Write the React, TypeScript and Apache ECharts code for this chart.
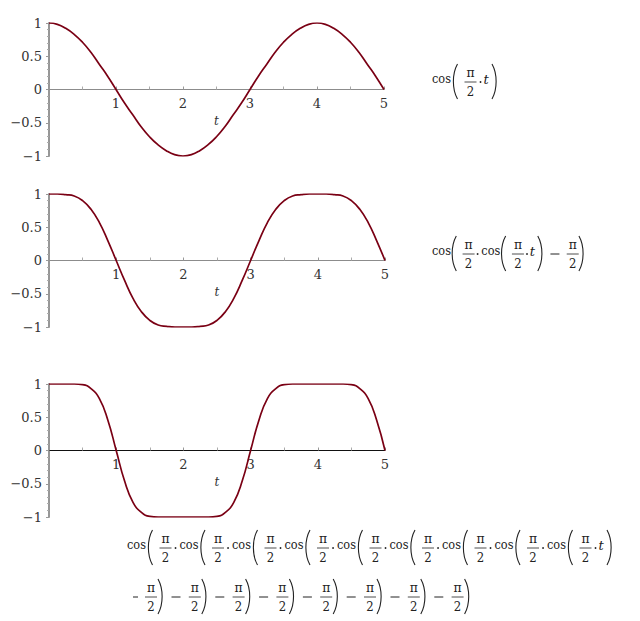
import React, { useEffect, useRef } from "react";
import * as echarts from "echarts";

// sample positions along t
const tValues = [
  0, 0.125, 0.25, 0.375, 0.5, 0.625, 0.75, 0.875, 1,
  1.125, 1.25, 1.375, 1.5, 1.625, 1.75, 1.875, 2,
  2.125, 2.25, 2.375, 2.5, 2.625, 2.75, 2.875, 3,
  3.125, 3.25, 3.375, 3.5, 3.625, 3.75, 3.875, 4,
  4.125, 4.25, 4.375, 4.5, 4.625, 4.75, 4.875, 5,
];

// top plot: cos(pi/2 t)
const seriesTop = [
  1, 0.98, 0.92, 0.83, 0.71, 0.56, 0.38, 0.2, 0,
  -0.2, -0.38, -0.56, -0.71, -0.83, -0.92, -0.98, -1,
  -0.98, -0.92, -0.83, -0.71, -0.56, -0.38, -0.2, 0,
  0.2, 0.38, 0.56, 0.71, 0.83, 0.92, 0.98, 1,
  0.98, 0.92, 0.83, 0.71, 0.56, 0.38, 0.2, 0,
];

// middle plot
const seriesMid = [
  1, 1, 0.99, 0.97, 0.9, 0.77, 0.57, 0.3, 0,
  -0.3, -0.57, -0.77, -0.9, -0.97, -0.99, -1, -1,
  -1, -0.99, -0.97, -0.9, -0.77, -0.57, -0.3, 0,
  0.3, 0.57, 0.77, 0.9, 0.97, 0.99, 1, 1,
  1, 0.99, 0.97, 0.9, 0.77, 0.57, 0.3, 0,
];

// bottom plot
const seriesBottom = [
  1, 1, 1, 1, 0.99, 0.93, 0.78, 0.46, 0,
  -0.46, -0.78, -0.93, -0.99, -1, -1, -1, -1,
  -1, -1, -1, -0.99, -0.93, -0.78, -0.46, 0,
  0.46, 0.78, 0.93, 0.99, 1, 1, 1, 1,
  1, 1, 1, 0.99, 0.93, 0.78, 0.46, 0,
];

const xTicks = [0, 1, 2, 3, 4, 5];
const yTicks = [-1, -0.5, 0, 0.5, 1];

const FONT = "DejaVu Serif";
const INK = "#222";
const CURVE = "#7a0014";

// formula token lists
const formula1 = ["cos", "(", "frac", "·t", ")"];
const formula2 = ["cos", "(", "frac", "·", "cos", "(", "frac", "·t", ")", "−", "frac", ")"];
const formula3a: string[] = [];
for (let i = 0; i < 8; i++) formula3a.push("cos", "(", "frac", "·");
formula3a.push("cos", "(", "frac", "·t", ")");
const formula3b: string[] = ["u−", "frac", ")"];
for (let i = 0; i < 7; i++) formula3b.push("−", "frac", ")");

function txt(x: number, y: number, s: string, align: string, italic = false, sx = 1, size = 13) {
  return {
    type: "text",
    x,
    y,
    scaleX: sx,
    style: {
      text: s,
      fontFamily: FONT,
      fontSize: size,
      fontStyle: italic ? "italic" : "normal",
      fill: INK,
      textAlign: align,
      textVerticalAlign: "middle",
      align,
      verticalAlign: "middle",
    },
  };
}

function paren(x: number, ya: number, right: boolean) {
  const top = ya - 18;
  const bot = ya + 17;
  const h = bot - top;
  const outer = right ? x + 6 : x;
  const inner = right ? x + 0.5 : x + 5.5;
  return {
    type: "bezierCurve",
    shape: {
      x1: inner,
      y1: top,
      x2: inner,
      y2: bot,
      cpx1: outer,
      cpy1: top + h * 0.28,
      cpx2: outer,
      cpy2: bot - h * 0.28,
    },
    style: { stroke: INK, lineWidth: 1.1, fill: null },
  };
}

function hline(x1: number, x2: number, y: number, w = 0.9) {
  return { type: "line", shape: { x1, y1: y, x2, y2: y }, style: { stroke: INK, lineWidth: w } };
}

function dot(x: number, y: number) {
  return { type: "circle", shape: { cx: x, cy: y, r: 0.9 }, style: { fill: INK } };
}

function buildFormula(tokens: string[], x0: number, ya: number, k = 1) {
  const els: any[] = [];
  let c = x0;
  for (const tk of tokens) {
    switch (tk) {
      case "cos":
        els.push(txt(c, ya - 3, "cos", "left", false, 0.87));
        c += 19 * k;
        break;
      case "(":
        els.push(paren(c + 1 * k, ya, false));
        c += 13 * k;
        break;
      case ")":
        els.push(paren(c, ya, true));
        c += 6 * k;
        break;
      case "frac": {
        const m = c + 6.5;
        els.push(txt(m, ya - 9.5, "π", "center", false, 0.95));
        els.push(hline(m - 6, m + 6, ya, 0.8));
        els.push(txt(m, ya + 10, "2", "center", false, 0.9));
        c += 13 * k;
        break;
      }
      case "·":
        els.push(dot(c + 3.5 * k, ya));
        c += 7.5 * k;
        break;
      case "·t":
        els.push(dot(c + 3.5 * k, ya));
        els.push(txt(c + 6.5 * k, ya - 2.5, "t", "left", true));
        c += 14.5 * k;
        break;
      case "−":
        els.push(hline(c + 8 * k, c + 8 * k + 9, ya, 1));
        c += 24.8 * k;
        break;
      case "u−":
        els.push(hline(c, c + 5, ya, 1));
        c += 11.5 * k;
        break;
    }
  }
  return els;
}

const grids = [
  { left: 49, top: 23, width: 335, height: 133 },
  { left: 49, top: 194, width: 336, height: 133 },
  { left: 49, top: 384, width: 336, height: 133 },
];
const xAxisLineColors = ["#8c8c8c", "#8c8c8c", "#111"];
const allSeries = [seriesTop, seriesMid, seriesBottom];

function fmtY(v: number) {
  return v < 0 ? "−" + String(Math.abs(v)) : String(v);
}

export default function App() {
  const ref = useRef<HTMLDivElement>(null);
  useEffect(() => {
    if (!ref.current) return;
    const chart = echarts.init(ref.current, undefined, { renderer: "svg" });
    const labelStyle = { fontFamily: FONT, fontSize: 13, color: "#333" };
    const option: any = {
      animation: false,
      backgroundColor: "#fff",
      textStyle: { fontFamily: FONT },
      grid: grids.map((g) => ({ ...g, containLabel: false })),
      xAxis: grids.map((g, i) => ({
        type: "value",
        gridIndex: i,
        position: "bottom",
        offset: -g.height / 2,
        min: xTicks[0],
        max: xTicks[xTicks.length - 1],
        interval: 1,
        name: "t",
        nameLocation: "middle",
        nameGap: 25,
        nameTextStyle: { fontFamily: FONT, fontSize: 12, fontStyle: "italic", color: "#333" },
        axisLine: { show: true, onZero: false, lineStyle: { color: xAxisLineColors[i], width: 1.2 } },
        axisTick: { show: true, inside: true, length: 3, lineStyle: { color: "#999" } },
        minorTick: { show: true, splitNumber: 2, length: 3, lineStyle: { color: "#aaa" } },
        splitLine: { show: false },
        axisLabel: {
          ...labelStyle,
          margin: 7,
          formatter: (v: number) => (v === 0 ? "" : String(v)),
        },
      })),
      yAxis: grids.map((_, i) => ({
        type: "value",
        gridIndex: i,
        min: yTicks[0],
        max: yTicks[yTicks.length - 1],
        interval: 0.5,
        axisLine: { show: true, onZero: false, lineStyle: { color: "#8c8c8c", width: 1.8 } },
        axisTick: { show: true, length: 3, lineStyle: { color: "#999" } },
        minorTick: { show: true, splitNumber: 5, length: 2, lineStyle: { color: "#aaa" } },
        splitLine: { show: false },
        axisLabel: { ...labelStyle, margin: 7, formatter: fmtY },
      })),
      series: allSeries.map((s, i) => ({
        type: "line",
        xAxisIndex: i,
        yAxisIndex: i,
        data: tValues.map((t, j) => [t, s[j]]),
        showSymbol: false,
        smooth: 0.5,
        lineStyle: { color: CURVE, width: 1.7 },
        silent: true,
      })),
      graphic: {
        elements: [
          ...buildFormula(formula1, 432, 82),
          ...buildFormula(formula2, 432, 254, 0.94),
          ...buildFormula(formula3a, 127, 548),
          ...buildFormula(formula3b, 133, 597),
        ],
      },
    };
    chart.setOption(option);
    return () => chart.dispose();
  }, []);
  return (
    <div
      ref={ref}
      style={{ position: "absolute", left: 0, top: 0, width: 640, height: 621 }}
    />
  );
}
